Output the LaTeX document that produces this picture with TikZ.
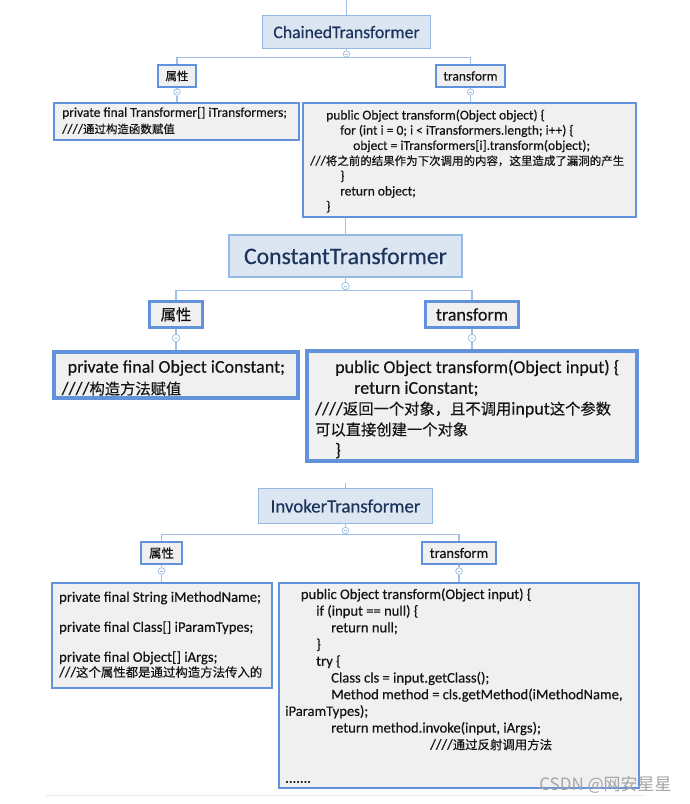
\documentclass[tikz,border=0pt]{standalone}
\usepackage{fontspec}
\setmainfont{Carlito}[FakeBold=0.35]
\newfontfamily\cjkf{Noto Sans CJK SC}[Scale=0.85, FakeBold=0.3]
\newfontfamily\wmf{Noto Sans CJK SC}
\newcommand\zh[1]{{\cjkf #1}}
\newcommand\fsz[1]{\fontsize{#1}{#1}\selectfont}
\newcommand\cln[2][0pt]{\hbox{\kern#1\relax#2}}
\definecolor{titlefill}{RGB}{220,230,242}
\definecolor{titlebd}{RGB}{150,185,228}
\definecolor{titletext}{RGB}{28,52,92}
\definecolor{boxbd}{RGB}{98,146,218}
\definecolor{boxfill}{RGB}{240,240,240}
\definecolor{conn}{RGB}{160,192,232}
\definecolor{txt}{RGB}{20,20,20}
\definecolor{wm}{RGB}{165,165,165}
\definecolor{faint}{RGB}{232,232,232}
\tikzset{
  titlebox/.style={draw=titlebd, fill=titlefill, line width=1.5pt, text=titletext, inner sep=0pt},
  labbox/.style={draw=boxbd, fill=boxfill, inner sep=0pt, text=txt},
  txtbox/.style={draw=boxbd, fill=boxfill, inner sep=0pt},
  link/.style={draw=conn, line width=1.2pt},
  knob/.style={circle, draw=conn, fill=white, line width=0.8pt, inner sep=0pt, minimum size=#1,
    path picture={\draw[conn, line width=0.7pt] ([xshift=-1.4pt]path picture bounding box.center) -- ([xshift=1.4pt]path picture bounding box.center);}},
  knob/.default=6.4pt,
  code/.style={anchor=base west, inner sep=0pt, text=txt},
}
\begin{document}
\begin{tikzpicture}[x=1pt, y=-1pt]
\fill[white] (0,0) rectangle (689,804);
\useasboundingbox (0,0) rectangle (689,804);

% ---------------- Section 1 ----------------
\coordinate (top1) at (346.5,0);
\node[titlebox, minimum width=168pt, minimum height=33pt, font=\fsz{17.7}] (t1) at (346.5,32) {ChainedTransformer};
\node[knob] (k1) at (346.5,54) {};
\node[labbox, line width=2.2pt, minimum width=38pt, minimum height=22pt, font=\fsz{13.5}] (a1) at (177,76) {\zh{属性}};
\node[labbox, line width=2.2pt, minimum width=69pt, minimum height=22pt, font=\fsz{13.5}] (f1) at (470.5,76) {transform};
\node[knob] (ka1) at (177,92) {};
\node[knob] (kf1) at (470.5,92) {};
\node[txtbox, line width=2.2pt, minimum width=245pt, minimum height=37pt] (L1) at (176.5,121.5) {};
\node[txtbox, line width=2.2pt, minimum width=333pt, minimum height=114pt] (R1) at (469.5,160) {};
\draw[link] (top1) -- (t1.north);
\draw[link] (t1.south) -- (k1.north);
\draw[link] (a1.north) |- (k1.south) -| (f1.north);
\draw[link] (a1.south) -- (ka1.north);
\draw[link] (ka1.south) -- (ka1.south |- L1.north);
\draw[link] (f1.south) -- (kf1.north);
\draw[link] (kf1.south) -- (kf1.south |- R1.north);
\node[code, font=\fsz{13.5}] (L1t) at (62,116.8) {\vtop{\baselineskip=16.5pt
  \cln{private final Transformer[] iTransformers;}
  \cln{////\zh{通过构造函数赋值}}}};
\node[code, font=\fsz{13.5}] (R1t) at (310,119.5) {\vtop{\baselineskip=15.2pt
  \cln[16pt]{public Object transform(Object object) \{}
  \cln[30pt]{for (int i = 0; i < iTransformers.length; i++) \{}
  \cln[43pt]{object = iTransformers[i].transform(object);}
  \cln{///\zh{将之前的结果作为下次调用的内容，这里造成了漏洞的产生}}
  \cln[30pt]{\}}
  \cln[30pt]{return object;}
  \cln[16pt]{\}}}};

% ---------------- Section 2 ----------------
\node[titlebox, minimum width=233pt, minimum height=42pt, font=\fsz{23.7}] (t2) at (345.5,256) {ConstantTransformer};
\draw[link] (t2.north) -- (t2.north |- R1.south);
\node[knob=7.5pt] (k2) at (345.5,286) {};
\node[labbox, line width=3.4pt, minimum width=53pt, minimum height=26pt, font=\fsz{18}] (a2) at (176,314.5) {\zh{属性}};
\node[labbox, line width=3.4pt, minimum width=93pt, minimum height=26pt, font=\fsz{18}] (f2) at (472,314.5) {transform};
\node[knob=7.5pt] (ka2) at (176,338) {};
\node[knob=7.5pt] (kf2) at (472,338) {};
\node[txtbox, line width=3.6pt, minimum width=244pt, minimum height=46pt] (L2) at (176,375) {};
\node[txtbox, line width=3.6pt, minimum width=330pt, minimum height=110pt] (R2) at (472,406) {};
\draw[link] (t2.south) -- (k2.north);
\draw[link] (a2.north) |- (k2.south) -| (f2.north);
\draw[link] (a2.south) -- (ka2.north);
\draw[link] (ka2.south) -- (ka2.south |- L2.north);
\draw[link] (f2.south) -- (kf2.north);
\draw[link] (kf2.south) -- (kf2.south |- R2.north);
\node[code, font=\fsz{18}] (L2t) at (61.5,372.7) {\vtop{\baselineskip=21.7pt
  \cln[6pt]{private final Object iConstant;}
  \cln{////\zh{构造方法赋值}}}};
\node[code, font=\fsz{18}] (R2t) at (315,373) {\vtop{\baselineskip=20.75pt
  \cln[20pt]{public Object transform(Object input) \{}
  \cln[39pt]{return iConstant;}
  \cln{////\zh{返回一个对象，且不调用}input\zh{这个参数}}
  \cln{\zh{可以直接创建一个对象}}
  \cln[20pt]{\}}}};

% ---------------- Section 3 ----------------
\coordinate (stub3) at (345.5,483);
\node[titlebox, minimum width=174pt, minimum height=35pt, font=\fsz{18.85}] (t3) at (345.5,506) {InvokerTransformer};
\draw[link] (stub3) -- (t3.north);
\node[knob=6.6pt] (k3) at (345.5,530.5) {};
\node[labbox, line width=2.6pt, minimum width=41pt, minimum height=22pt, font=\fsz{14.6}] (a3) at (161.5,553) {\zh{属性}};
\node[labbox, line width=2.6pt, minimum width=74pt, minimum height=22pt, font=\fsz{14.6}] (f3) at (459,553) {transform};
\node[knob=6.6pt] (ka3) at (161.5,571) {};
\node[knob=6.6pt] (kf3) at (459,571) {};
\node[txtbox, line width=2.6pt, minimum width=220pt, minimum height=105pt] (L3) at (162,635.5) {};
\node[txtbox, line width=2.6pt, minimum width=360pt, minimum height=205pt] (R3) at (459,685.5) {};
\draw[link] (t3.south) -- (k3.north);
\draw[link] (a3.north) |- (k3.south) -| (f3.north);
\draw[link] (a3.south) -- (ka3.north);
\draw[link] (ka3.south) -- (ka3.south |- L3.north);
\draw[link] (f3.south) -- (kf3.north);
\draw[link] (kf3.south) -- (kf3.south |- R3.north);
\node[code, font=\fsz{14.6}] (L3t) at (59,601.8) {\vtop{\baselineskip=15pt
  \cln{private final String iMethodName;}
  \cln{}
  \cln{private final Class[] iParamTypes;}
  \cln{}
  \cln{private final Object[] iArgs;}
  \cln{///\zh{这个属性都是通过构造方法传入的}}}};
\node[code, font=\fsz{14.6}] (R3t) at (285,599) {\vtop{\baselineskip=16.7pt
  \cln[15.7pt]{public Object transform(Object input) \{}
  \cln[31pt]{if (input == null) \{}
  \cln[46pt]{return null;}
  \cln[31pt]{\}}
  \cln[31pt]{try \{}
  \cln[46pt]{Class cls = input.getClass();}
  \cln[46pt]{Method method = cls.getMethod(iMethodName,}
  \cln{iParamTypes);}
  \cln[46pt]{return method.invoke(input, iArgs);}
  \cln[145pt]{////\zh{通过反射调用方法}}
  \cln{}
  \cln{.......}}};

\draw[faint, line width=1pt] (46,795) -- (645,795);
\node[font=\wmf\fsz{17}, text=wm, inner sep=0pt] (wmk) at (605.5,785) {CSDN @网安星星};
\end{tikzpicture}
\end{document}
